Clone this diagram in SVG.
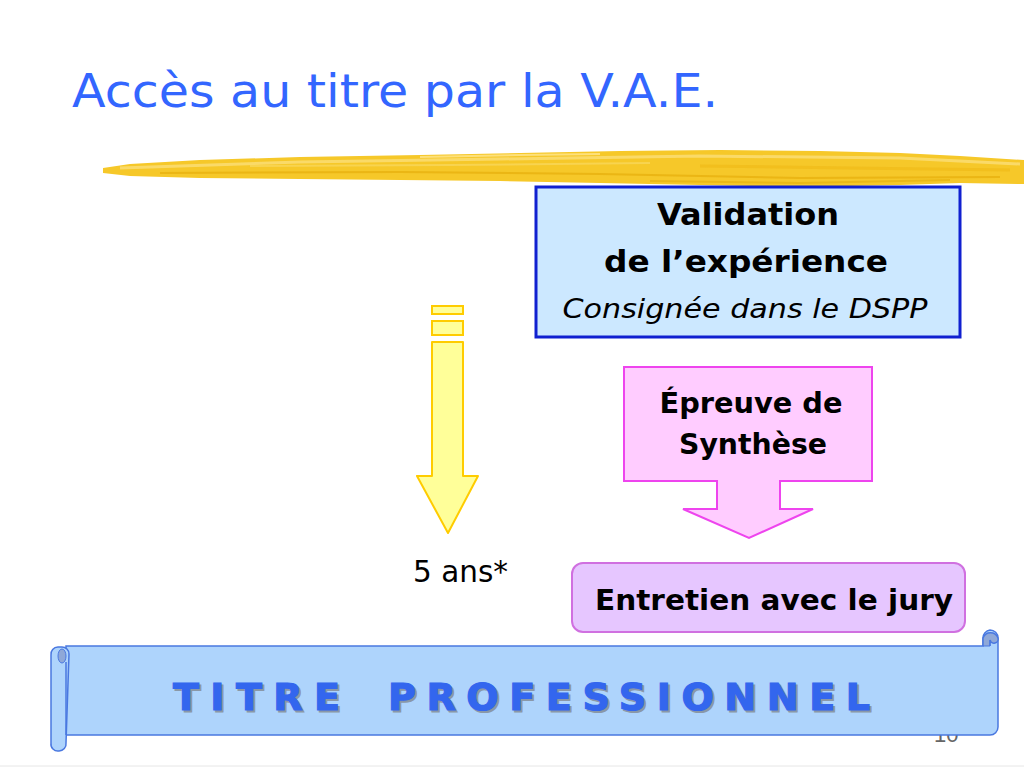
<svg xmlns="http://www.w3.org/2000/svg" width="1024" height="768" viewBox="0 0 1024 768">
<style>
.comic{font-family:"Comic Sans MS","DejaVu Sans","Noto Sans",sans-serif;}
.b{font-weight:bold;fill:#000;}
.banner{font-family:"DejaVu Sans","Verdana",sans-serif;font-weight:bold;font-size:38px;stroke-width:1.2px;}
</style>
<rect width="1024" height="768" fill="#ffffff"/>
<line x1="0" y1="766" x2="1024" y2="766" stroke="#e6e6e6" stroke-width="1"/>

<g id="title">
<text class="comic" x="72" y="107" font-size="46" fill="#3366FF" textLength="646" lengthAdjust="spacingAndGlyphs">Accès au titre par la V.A.E.</text>
</g>

<g id="brush">
<path d="M103,168 L130,164 L200,160 L300,157 L420,155 L520,153 L620,151 L720,150 L820,151 L900,153 L960,156 L1024,160 L1024,184 L960,183 L900,185 L800,187 L700,185 L600,183 L500,181 L400,180 L300,179 L200,178 L130,176 L103,173 Z" fill="#F6C829"/>
<path d="M120,168 L300,162 L500,159 L700,156 L900,158 L1020,164" fill="none" stroke="#FBDF78" stroke-width="3" opacity="0.8"/>
<path d="M160,173 L400,172 L600,174 L800,178 L1000,177" fill="none" stroke="#E0A400" stroke-width="2" opacity="0.5"/>
<path d="M420,157 L520,155 L600,154" fill="none" stroke="#FFE690" stroke-width="2" opacity="0.8"/>
<path d="M650,181 L800,183 L950,180" fill="none" stroke="#E5AE0A" stroke-width="2" opacity="0.6"/>
<path d="M700,166 L850,168 L1010,170" fill="none" stroke="#EDB612" stroke-width="3" opacity="0.5"/>
<path d="M250,166 L450,165 L650,163" fill="none" stroke="#FAD860" stroke-width="2" opacity="0.7"/>
</g>

<g id="validation">
<rect x="536" y="187" width="424" height="150" fill="#CCE8FF" stroke="#1020D0" stroke-width="3"/>
<text class="comic b" x="748" y="225" font-size="30" text-anchor="middle" textLength="182" lengthAdjust="spacingAndGlyphs">Validation</text>
<text class="comic b" x="746" y="272" font-size="30" text-anchor="middle" textLength="284" lengthAdjust="spacingAndGlyphs">de l’expérience</text>
<text class="comic" x="745" y="318" font-size="26" font-style="italic" text-anchor="middle" fill="#000" textLength="365" lengthAdjust="spacingAndGlyphs">Consignée dans le DSPP</text>
</g>

<g id="yellow-arrow">
<rect x="432" y="306" width="31" height="8" fill="#FFFF99" stroke="#FFCC00" stroke-width="2"/>
<rect x="432" y="321" width="31" height="14" fill="#FFFF99" stroke="#FFCC00" stroke-width="2"/>
<path d="M432,342 L463,342 L463,476 L478,476 L448,533 L417,476 L432,476 Z" fill="#FFFF99" stroke="#FFCC00" stroke-width="2" stroke-linejoin="round"/>
</g>

<g id="label-5ans">
<text class="comic" x="413" y="582" font-size="30" fill="#000" textLength="95" lengthAdjust="spacingAndGlyphs">5 ans*</text>
</g>

<g id="epreuve">
<path d="M624,367 L872,367 L872,481 L780,481 L780,509 L813,509 L749,538 L683,509 L717,509 L717,481 L624,481 Z" fill="#FFCCFF" stroke="#EE44EE" stroke-width="2"/>
<text class="comic b" x="751" y="413" font-size="28" text-anchor="middle" textLength="183" lengthAdjust="spacingAndGlyphs">Épreuve de</text>
<text class="comic b" x="753" y="454" font-size="28" text-anchor="middle" textLength="148" lengthAdjust="spacingAndGlyphs">Synthèse</text>
</g>

<g id="entretien">
<rect x="572" y="563" width="393" height="69" rx="11" fill="#E6C6FF" stroke="#D070E0" stroke-width="2"/>
<text class="comic b" x="595" y="610" font-size="28" textLength="358" lengthAdjust="spacingAndGlyphs">Entretien avec le jury</text>
</g>

<g id="connectors"></g>

<g id="page-number">
<text x="934" y="742" font-family="Liberation Sans, Arial, sans-serif" font-size="22" fill="#666">10</text>
</g>

<g id="titre-professionnel">
<path d="M990,630 a8,8 0 0 1 8,8 L998,727 a8,8 0 0 1 -8,8 L66,735 L66,646 L983,646 L983,638 a8,8 0 0 1 7,-8 Z" fill="#AED4FC" stroke="#4A78E0" stroke-width="1.5"/>
<path d="M983,646 L983,638 a8,8 0 0 1 15,0 a4,4 0 0 1 -8,2 L990,646" fill="#8FA8D8" stroke="#4A78E0" stroke-width="1.5"/>
<path d="M983,646 L990,646 L990,640" fill="none" stroke="#4A78E0" stroke-width="1"/>
<path d="M58,647 L62,647 a7,7 0 0 1 7,7 L66,743 a7,7 0 0 1 -7,8 a7,7 0 0 1 -8,-8 L51,655 a7,7 0 0 1 7,-8 Z" fill="#AED4FC" stroke="#4A78E0" stroke-width="1.5"/>
<ellipse cx="62" cy="656" rx="4" ry="7" fill="#8FA8D8" stroke="#4A78E0" stroke-width="1"/>
<line x1="66" y1="662" x2="66" y2="735" stroke="#4A78E0" stroke-width="1.5"/>
<text class="banner" x="175" y="712" fill="#8A98A8" stroke="#8A98A8" textLength="167" lengthAdjust="spacing">TITRE</text>
<text class="banner" x="390" y="712" fill="#8A98A8" stroke="#8A98A8" textLength="482" lengthAdjust="spacing">PROFESSIONNEL</text>
<text class="banner" x="173" y="710" fill="#3366EE" stroke="#3366EE" textLength="167" lengthAdjust="spacing">TITRE</text>
<text class="banner" x="388" y="710" fill="#3366EE" stroke="#3366EE" textLength="482" lengthAdjust="spacing">PROFESSIONNEL</text>
</g>
</svg>
